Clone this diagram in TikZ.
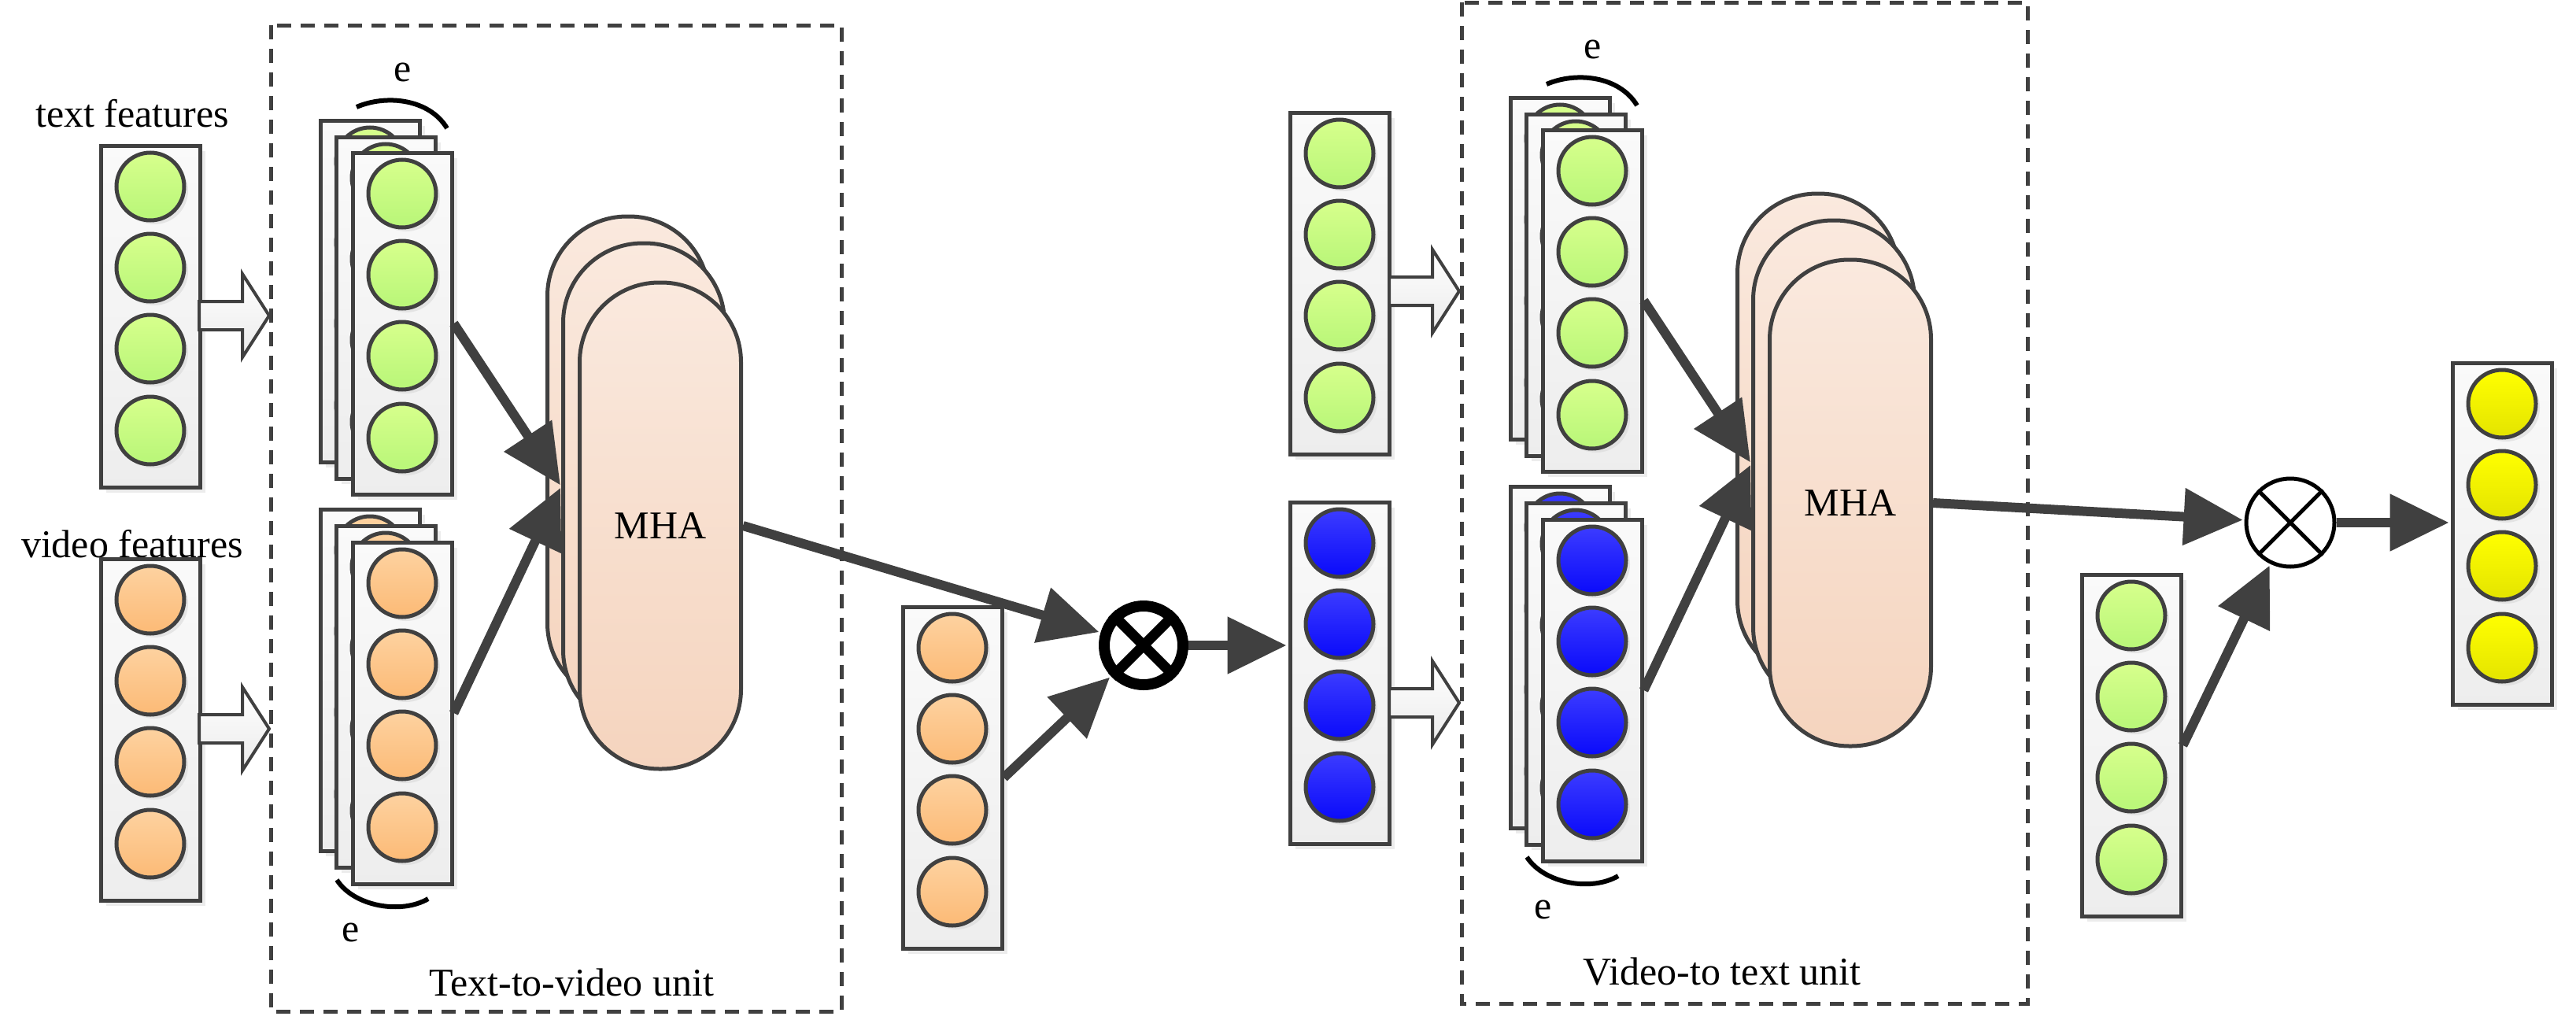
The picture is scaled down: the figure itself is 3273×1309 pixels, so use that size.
\documentclass[tikz,border=0pt]{standalone}
\usepackage{fontspec}
\setmainfont{Liberation Serif}
\usetikzlibrary{arrows.meta,shadows,calc}
\definecolor{dk}{HTML}{404040}
\begin{document}
\begin{tikzpicture}[x=1pt,y=-1pt,
  lbl/.style={font=\fontsize{50}{56}\selectfont, inner sep=0pt},
  colbox/.style={rectangle, draw=dk, line width=5pt, minimum width=126pt, minimum height=434pt, inner sep=0pt,
     top color=white!98!black, bottom color=black!7, drop shadow={shadow xshift=7pt,shadow yshift=-7pt,fill=black!12,opacity=.6}},
  ball/.style={circle, draw=dk, line width=5pt, minimum size=86pt, inner sep=0pt,
     drop shadow={shadow xshift=5pt,shadow yshift=-5pt,fill=black!15,opacity=.6}},
  gr/.style={top color=green!35!yellow!45, bottom color={rgb,255:red,184;green,246;blue,120}},
  orn/.style={top color={rgb,255:red,253;green,210;blue,160}, bottom color={rgb,255:red,252;green,186;blue,118}},
  blu/.style={top color={rgb,255:red,60;green,60;blue,255}, bottom color={rgb,255:red,10;green,10;blue,250}},
  yel/.style={top color=yellow, bottom color={rgb,255:red,228;green,228;blue,0}},
  mha/.style={rectangle, rounded corners=101pt, draw=dk, line width=5pt, minimum width=205pt, minimum height=618pt,
     top color={rgb,255:red,250;green,233;blue,222}, bottom color={rgb,255:red,245;green,212;blue,190}, inner sep=0pt},
  arr/.style={draw=dk, line width=12pt, -{Triangle[length=75pt,width=70pt]}, shorten >=2pt},
  hol/.style={draw=dk, line width=4pt, top color=white, bottom color=black!8, line join=miter},
  dbox/.style={draw=dk, line width=5pt, dash pattern=on 18pt off 12pt},
  earc/.style={line width=6pt, black}
]
\useasboundingbox (0,0) rectangle (3273,1309);
\newcommand\vcol[4]{%
  \node[colbox] (#1) at (#2+63,#3+217) {};
  \foreach \k/\o in {1/52,2/155,3/258,4/362} {\node[ball,#4] (#1-\k) at (#2+63,#3+\o) {};}
}
\newcommand\holarrow[2]{%
  \path[hol] (#1,#2-18) -- ++(55,0) -- ++(0,-35) -- ++(34,53) -- ++(-34,53) -- ++(0,-35) -- ++(-55,0) -- cycle;
}
% dashed unit boxes
\draw[dbox] (344,32) rectangle (1069,1285);
\draw[dbox] (1857,3) rectangle (2576,1275);

% input columns
\node[lbl] (tfl) at (168,144) {text features};
\node[lbl] (vfl) at (168,691) {video features};
\vcol{tf}{128}{185}{gr}
\vcol{vf}{128}{710}{orn}
\holarrow{253}{401}
\holarrow{253}{926}

% left unit
\vcol{tb3}{407}{153}{gr}
\vcol{tb2}{427}{174}{gr}
\vcol{tb1}{448}{194}{gr}
\vcol{vb3}{407}{647}{orn}
\vcol{vb2}{427}{668}{orn}
\vcol{vb1}{448}{689}{orn}
\draw[earc] (453,136) .. controls (490,120) and (545,125) .. (568,163);
\draw[earc] (428,1118) .. controls (450,1152) and (510,1162) .. (544,1142);
\node[lbl] (e1) at (512,92) {e};
\node[lbl] (e2) at (446,1185) {e};
\node[mha] (m3) at (798,584) {};
\node[mha] (m2) at (818,618) {};
\node[mha] (m1) at (839,668) {};
\node[lbl] at (m1) {MHA};
\node[lbl] (u1) at (726,1248) {Text-to-video unit};
\draw[arr] (tb1.east) -- (m2.west);
\draw[arr] (vb1.east) -- (m2.west);

% middle
\node[circle, draw=black, line width=14pt, fill=white, minimum size=100pt, inner sep=0pt] (ot1) at (1453,820) {};
\draw[line width=13pt, black] (ot1.north west) -- (ot1.south east) (ot1.north east) -- (ot1.south west);
\vcol{oc}{1147}{771}{orn}
\draw[arr] (m1.east) -- (ot1);
\draw[arr] (oc.east) -- (ot1);
\vcol{gc}{1639}{143}{gr}
\vcol{bc}{1639}{638}{blu}
\draw[arr] (ot1) -- (ot1 -| bc.west);
\holarrow{1765}{370}
\holarrow{1765}{893}

% right unit
\begin{scope}[shift={(1512,-29)}]
\vcol{tc3}{407}{153}{gr}
\vcol{tc2}{427}{174}{gr}
\vcol{tc1}{448}{194}{gr}
\vcol{bb3}{407}{647}{blu}
\vcol{bb2}{427}{668}{blu}
\vcol{bb1}{448}{689}{blu}
\draw[earc] (453,136) .. controls (490,120) and (545,125) .. (568,163);
\draw[earc] (428,1118) .. controls (450,1152) and (510,1162) .. (544,1142);
\node[lbl] (e3) at (512,92) {e};
\node[lbl] (e4) at (449,1185) {e};
\node[mha] (n3) at (798,584) {};
\node[mha] (n2) at (818,618) {};
\node[mha] (n1) at (839,668) {};
\node[lbl] at (n1) {MHA};
\draw[arr] (tc1.east) -- (n2.west);
\draw[arr] (bb1.east) -- (n2.west);
\end{scope}
\node[lbl] (u2) at (2188,1235) {Video-to text unit};

% output
\node[circle, draw=black, line width=5pt, fill=white, minimum size=112pt, inner sep=0pt] (ot2) at (2910,664) {};
\draw[line width=5pt, black] (ot2.north west) -- (ot2.south east) (ot2.north east) -- (ot2.south west);
\vcol{g2}{2645}{730}{gr}
\vcol{yc}{3116}{461}{yel}
\draw[arr] (n1.east) -- (ot2);
\draw[arr] (g2.east) -- (ot2);
\draw[arr] (ot2) -- (ot2 -| yc.west);
\end{tikzpicture}
\end{document}
